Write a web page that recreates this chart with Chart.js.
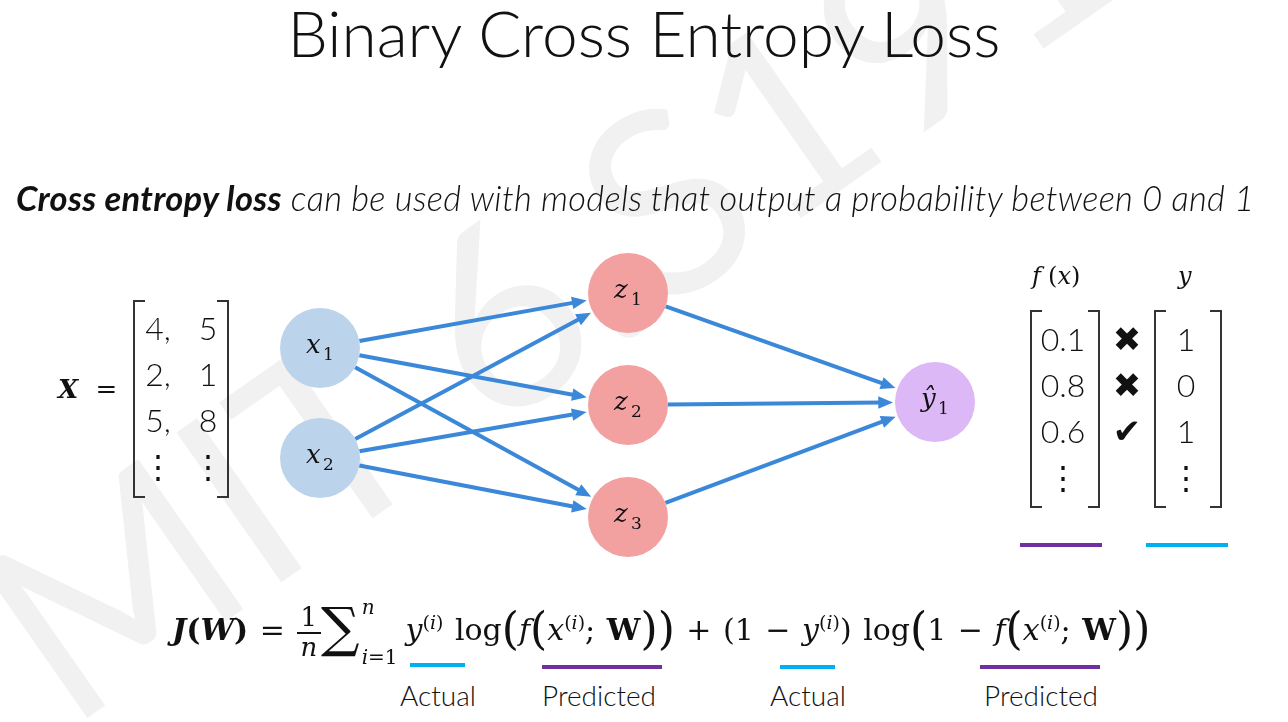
<!DOCTYPE html>
<html>
<head>
<meta charset="utf-8">
<script src="https://cdn.jsdelivr.net/npm/chart.js@4/dist/chart.umd.min.js"></script>
<style>
  html, body { margin: 0; padding: 0; background: #fff; }
  #wrap { position: relative; width: 1288px; height: 722px; overflow: hidden; font-family: Lato, "Open Sans", sans-serif; color: #111; }
  canvas { position: absolute; left: 0; top: 0; }
  .t { position: absolute; white-space: nowrap; }
  .m { font-family: "DejaVu Serif", serif; font-style: italic; }
  .mat { position: absolute; border-left: 2px solid #333; border-right: 2px solid #333; }
  .mat:before, .mat:after { content: ''; position: absolute; top: 0; bottom: 0; width: 10px; border-top: 2px solid #333; border-bottom: 2px solid #333; }
  .mat:before { left: 0; }
  .mat:after { right: 0; }
  .col { position: absolute; text-align: center; font-size: 32px; line-height: 46px; font-weight: 300; }
  .bar { position: absolute; height: 4px; }
  .f { font-family: "DejaVu Serif", serif; font-size: 30px; }
  .f sup { font-size: 19px; }
  .big { font-size: 44px; vertical-align: -4px; }
</style>
</head>
<body>
<div id="wrap">
  <div class="t" style="left:0;width:1288px;top:-6px;text-align:center;font-size:64px;font-weight:300;z-index:2">Binary Cross Entropy Loss</div>
  <div class="t" style="left:85px;top:500px;font-size:255px;line-height:255px;color:#f1f1f1;transform:rotate(-35deg);transform-origin:left bottom;font-weight:400;z-index:0">MIT 6.S191</div>
  <div class="t" style="left:16px;top:177px;font-size:34.5px;font-style:italic;font-weight:300;z-index:2;letter-spacing:0.3px"><b style="font-weight:700">Cross entropy loss</b> can be used with models that output a probability between 0 and 1</div>

  <div class="t m" style="left:58px;top:374px;font-size:26px;font-weight:bold;z-index:2">X <span style="font-style:normal;font-weight:normal">&nbsp;=</span></div>
  <div class="mat" style="left:133px;top:300px;width:92px;height:198px;z-index:2"></div>
  <div class="col" style="left:140px;top:305px;width:36px;z-index:2">4,<br>2,<br>5,<br>⋮</div>
  <div class="col" style="left:190px;top:305px;width:36px;z-index:2">5<br>1<br>8<br>⋮</div>

  <div class="t m" style="left:1032px;top:262px;font-size:24px;z-index:2">f</div>
  <div class="t m" style="left:1048px;top:262px;font-size:24px;font-style:normal;z-index:2">(<i>x</i>)</div>
  <div class="t m" style="left:1178px;top:262px;font-size:24px;z-index:2">y</div>
  <div class="mat" style="left:1030px;top:310px;width:66px;height:198px;z-index:2"></div>
  <div class="col" style="left:1030px;top:316px;width:66px;z-index:2">0.1<br>0.8<br>0.6<br>⋮</div>
  <div class="col" style="left:1104px;top:316px;width:46px;font-size:34px;font-weight:900;font-family:'DejaVu Sans';z-index:2">✖<br>✖<br>✔<br>&nbsp;</div>
  <div class="mat" style="left:1154px;top:310px;width:64px;height:198px;z-index:2"></div>
  <div class="col" style="left:1154px;top:316px;width:64px;z-index:2">1<br>0<br>1<br>⋮</div>
  <div class="bar" style="left:1020px;top:543px;width:82px;background:#7030a0"></div>
  <div class="bar" style="left:1146px;top:543px;width:82px;background:#00b0f0"></div>

  <div class="t f" style="left:172px;top:582px;z-index:2;word-spacing:2px">
    <b><i>J</i>(<i>W</i>)</b> = <span style="display:inline-block;vertical-align:middle;text-align:center;font-size:26px;line-height:30px"><span style="border-bottom:2px solid #111;padding:0 4px">1</span><br><i>n</i></span><span style="font-size:54px;vertical-align:-6px">∑</span><span style="display:inline-block;vertical-align:middle;font-size:20px;line-height:50px;margin:0 8px 0 2px"><i>n</i><br><i>i</i>=1</span><i>y</i><sup>(<i>i</i>)</sup> log<span class="big">(</span><i>f</i><span class="big">(</span><i>x</i><sup>(<i>i</i>)</sup>; <b>W</b><span class="big">)</span><span class="big">)</span> + (1 − <i>y</i><sup>(<i>i</i>)</sup>) log<span class="big">(</span>1 − <i>f</i><span class="big">(</span><i>x</i><sup>(<i>i</i>)</sup>; <b>W</b><span class="big">)</span><span class="big">)</span>
  </div>
  <div class="bar" style="left:410px;top:663px;width:55px;background:#00b0f0"></div>
  <div class="bar" style="left:542px;top:665px;width:120px;background:#7030a0"></div>
  <div class="bar" style="left:780px;top:665px;width:55px;background:#00b0f0"></div>
  <div class="bar" style="left:980px;top:665px;width:120px;background:#7030a0"></div>
  <div class="t" style="left:400px;top:678px;font-size:28px;font-weight:300">Actual</div>
  <div class="t" style="left:542px;top:678px;font-size:28px;font-weight:300">Predicted</div>
  <div class="t" style="left:770px;top:678px;font-size:28px;font-weight:300">Actual</div>
  <div class="t" style="left:984px;top:678px;font-size:28px;font-weight:300">Predicted</div>

  <canvas id="net" width="1288" height="722" style="z-index:1"></canvas>
</div>
<script>
// node layout of the network (slide coordinates)
const nodeNames = ['x1', 'x2', 'z1', 'z2', 'z3', 'y1'];
const nodeX = [320, 320, 628, 628, 628, 935];
const nodeY = [348, 458, 293, 405, 517, 402];
const nodeColors = ['#bcd3ec', '#bcd3ec', '#f2a0a0', '#f2a0a0', '#f2a0a0', '#dcb8f7'];
const nodeLabels = [['x', '1'], ['x', '2'], ['z', '1'], ['z', '2'], ['z', '3'], ['ŷ', '1']];
const nodeRadius = 40;
const edgeFrom = [0, 0, 0, 1, 1, 1, 2, 3, 4];
const edgeTo   = [2, 3, 4, 2, 3, 4, 5, 5, 5];

const edgePlugin = {
    id: 'edges',
    beforeDatasetsDraw(chart) {
        const ctx = chart.ctx;
        const sx = chart.scales.x, sy = chart.scales.y;
        ctx.save();
        ctx.strokeStyle = '#3b88d9';
        ctx.fillStyle = '#3b88d9';
        ctx.lineWidth = 4;
        edgeFrom.forEach((a, k) => {
            const b = edgeTo[k];
            const x0 = sx.getPixelForValue(nodeX[a]), y0 = sy.getPixelForValue(nodeY[a]);
            const x1 = sx.getPixelForValue(nodeX[b]), y1 = sy.getPixelForValue(nodeY[b]);
            const ang = Math.atan2(y1 - y0, x1 - x0);
            const sxp = x0 + Math.cos(ang) * nodeRadius, syp = y0 + Math.sin(ang) * nodeRadius;
            const ex = x1 - Math.cos(ang) * (nodeRadius + 2), ey = y1 - Math.sin(ang) * (nodeRadius + 2);
            ctx.beginPath();
            ctx.moveTo(sxp, syp);
            ctx.lineTo(ex - Math.cos(ang) * 10, ey - Math.sin(ang) * 10);
            ctx.stroke();
            ctx.beginPath();
            ctx.moveTo(ex, ey);
            ctx.lineTo(ex - 16 * Math.cos(ang - 0.4), ey - 16 * Math.sin(ang - 0.4));
            ctx.lineTo(ex - 16 * Math.cos(ang + 0.4), ey - 16 * Math.sin(ang + 0.4));
            ctx.closePath();
            ctx.fill();
        });
        ctx.restore();
    },
    afterDatasetsDraw(chart) {
        const ctx = chart.ctx;
        const sx = chart.scales.x, sy = chart.scales.y;
        ctx.save();
        ctx.fillStyle = '#111';
        nodeLabels.forEach((lab, i) => {
            const px = sx.getPixelForValue(nodeX[i]), py = sy.getPixelForValue(nodeY[i]);
            ctx.font = 'italic 26px "DejaVu Serif"';
            ctx.textBaseline = 'middle';
            ctx.fillText(lab[0], px - 14, py - 2);
            ctx.font = '17px "DejaVu Serif"';
            ctx.fillText(lab[1], px + 3, py + 8);
        });
        ctx.restore();
    }
};

new Chart(document.getElementById('net').getContext('2d'), {
    type: 'bubble',
    data: {
        datasets: [{
            data: nodeX.map((x, i) => ({ x: x, y: nodeY[i], r: nodeRadius })),
            backgroundColor: nodeColors,
            borderWidth: 0
        }]
    },
    options: {
        responsive: false,
        animation: false,
        layout: { padding: 0, autoPadding: false },
        plugins: { legend: { display: false }, tooltip: { enabled: false } },
        scales: {
            x: { type: 'linear', min: 0, max: 1288, display: false },
            y: { type: 'linear', min: 0, max: 722, reverse: true, display: false }
        }
    },
    plugins: [edgePlugin]
});
</script>
</body>
</html>
